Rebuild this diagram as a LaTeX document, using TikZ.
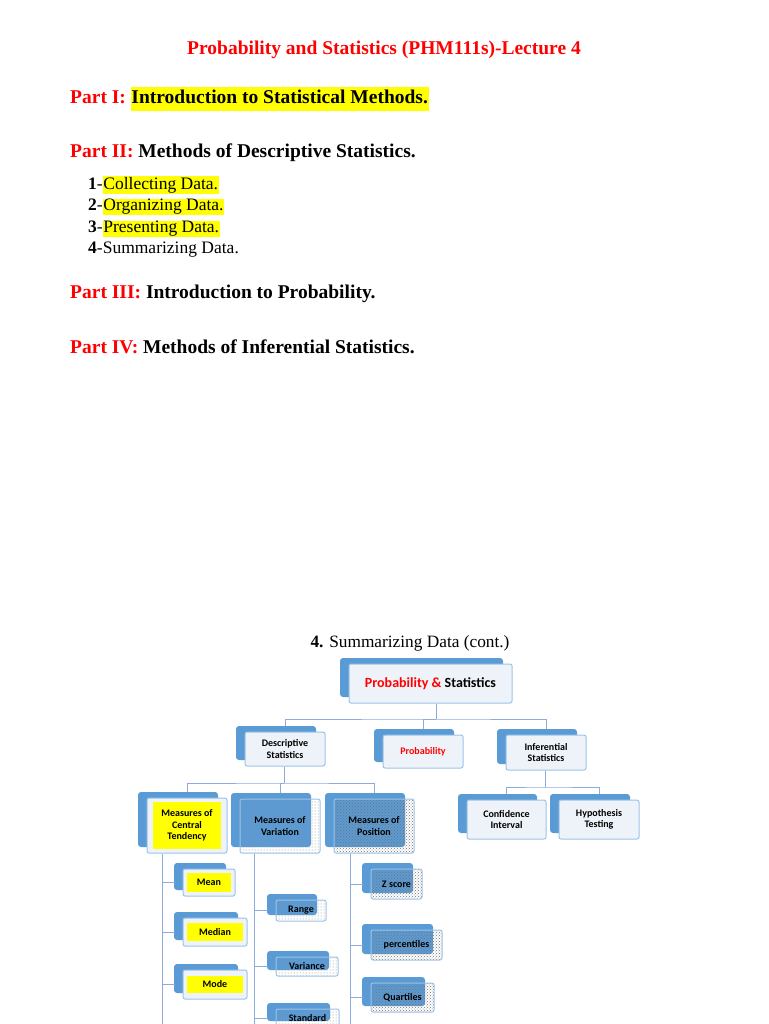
\documentclass[tikz,border=0pt]{standalone}
\usepackage{fontspec}
\setmainfont{Liberation Serif}
\newfontfamily\dsf{Carlito}
\usetikzlibrary{patterns}
\definecolor{hred}{HTML}{FF0000}
\definecolor{hyel}{HTML}{FFFF00}
\definecolor{backb}{HTML}{5B9BD5}
\definecolor{frontf}{HTML}{EEF3FA}
\definecolor{frontd}{HTML}{9DC3E6}
\definecolor{linec}{HTML}{8FAADC}
\setlength{\fboxsep}{0.6pt}
\tikzset{
  front/.style={draw=frontd,line width=1pt,fill=frontf,rounded corners=2pt,align=center,
    font=\dsf\bfseries\fontsize{10}{11.5}\selectfont,inner sep=1pt},
  backbox/.style={fill=backb,rounded corners=3pt},
  conn/.style={draw=linec,line width=0.8pt},
  lighdots/.style={pattern=dots,pattern color=black!45},
  densedots/.style={pattern=crosshatch dots,pattern color=black!55},
}
% \tb{name}{x1}{y1}{x2}{y2}{extra style}{text}
\newcommand{\tb}[7]{%
  \fill[backbox] ({#2-9},{#3-6}) rectangle ({#4-9},{#5-6});
  \node[front,minimum width={#4-#2},minimum height={#5-#3},#6] (#1) at ({(#2+#4)/2},{(#3+#5)/2}) {#7};
}
\begin{document}
\begin{tikzpicture}[x=1pt,y=-1pt]
\useasboundingbox (0,0) rectangle (768,1024);
\fill[white] (0,0) rectangle (768,1024);
% header text
\node[font=\bfseries\fontsize{19.5}{22}\selectfont,text=hred] (title) at (384,50) {Probability and Statistics (PHM111s)-Lecture 4};
\node[anchor=west,font=\bfseries\fontsize{19.5}{22}\selectfont,inner sep=0] (p1) at (70,99) {\textcolor{hred}{Part I:} \colorbox{hyel}{\strut Introduction to Statistical Methods.}};
\node[anchor=west,font=\bfseries\fontsize{19.5}{22}\selectfont,inner sep=0] (p2) at (70,153) {\textcolor{hred}{Part II:} Methods of Descriptive Statistics.};
\node[anchor=west,font=\fontsize{17.5}{20}\selectfont,inner sep=0] (l1) at (88,185) {\textbf{1}-\colorbox{hyel}{Collecting Data.}};
\node[anchor=west,font=\fontsize{17.5}{20}\selectfont,inner sep=0] (l2) at (88,207) {\textbf{2}-\colorbox{hyel}{Organizing Data.}};
\node[anchor=west,font=\fontsize{17.5}{20}\selectfont,inner sep=0] (l3) at (88,229) {\textbf{3}-\colorbox{hyel}{Presenting Data.}};
\node[anchor=west,font=\fontsize{17.5}{20}\selectfont,inner sep=0] (l4) at (88,250) {\textbf{4}-Summarizing Data.};
\node[anchor=west,font=\bfseries\fontsize{19.5}{22}\selectfont,inner sep=0] (p3) at (70,294) {\textcolor{hred}{Part III:} Introduction to Probability.};
\node[anchor=west,font=\bfseries\fontsize{19.5}{22}\selectfont,inner sep=0] (p4) at (70,347) {\textcolor{hred}{Part IV:} Methods of Inferential Statistics.};
\node[font=\fontsize{17.3}{20}\selectfont] (sub) at (410,643) {\textbf{4.} Summarizing Data (cont.)};

\tb{ps}{349}{664}{512}{703}{font=\dsf\bfseries\fontsize{14}{16}\selectfont}{\textcolor{hred}{Probability \&} Statistics}
\tb{ds}{245}{732}{325}{766}{}{Descriptive\\Statistics}
\tb{pr}{383}{735}{463}{768}{text=hred}{Probability}
\tb{is}{506}{735}{586}{770}{}{Inferential\\Statistics}
\tb{ct}{147}{798}{227}{853}{}{\colorbox{hyel}{\parbox[c][46pt]{66pt}{\centering Measures of\\Central\\Tendency}}}
\tb{mv}{240}{799}{320}{853}{lighdots}{Measures of\\Variation}
\tb{mp}{334}{799}{414}{853}{densedots}{Measures of\\Position}
\tb{ci}{467}{800}{546}{839}{}{Confidence\\Interval}
\tb{ht}{559}{800}{639}{839}{}{Hypothesis\\Testing}
\tb{mean}{183}{869}{235}{896}{}{\colorbox{hyel}{\parbox[c][18pt]{42pt}{\centering Mean}}}
\tb{med}{183}{918}{247}{946}{}{\colorbox{hyel}{\parbox[c][16pt]{54pt}{\centering Median}}}
\tb{mode}{183}{970}{247}{999}{}{\colorbox{hyel}{\parbox[c][16pt]{54pt}{\centering Mode}}}
\tb{rng}{276}{900}{326}{921}{lighdots}{Range}
\tb{var}{276}{957}{338}{976}{lighdots}{Variance}
\tb{sd}{276}{1009}{339}{1027}{lighdots}{Standard}
\tb{zs}{371}{869}{422}{899}{densedots}{Z score}
\tb{pc}{371}{930}{442}{960}{densedots}{percentiles}
\tb{qt}{371}{983}{434}{1012}{densedots}{Quartiles}

% connectors
\coordinate (j1) at (436,719);
\draw[conn] (ps.south -| j1) -- (j1);
\draw[conn] ([yshift=6pt]ds.north) |- (j1) -| ([yshift=6pt]is.north);
\draw[conn] (j1) -| ([yshift=6pt]pr.north);
\coordinate (j2) at (284,783);
\draw[conn] (ds.south -| j2) -- (j2);
\draw[conn] ([yshift=6pt]ct.north) |- (j2) -| ([yshift=6pt]mp.north);
\draw[conn] (j2) -| ([yshift=6pt]mv.north);
\coordinate (j3) at (545,787);
\draw[conn] (is.south -| j3) -- (j3);
\draw[conn] ([yshift=6pt]ci.north) |- (j3) -| ([yshift=6pt]ht.north);
\coordinate (t1) at (162,1024);
\coordinate (t2) at (254,1024);
\coordinate (t3) at (350,1024);
\draw[conn] (t1 |- ct.south) -- (t1);
\draw[conn] (t2 |- mv.south) -- (t2);
\draw[conn] (t3 |- mp.south) -- (t3);
\draw[conn] (t1 |- mean.west) -- ([xshift=-8pt]mean.west);
\draw[conn] (t1 |- med) -- ([xshift=-8pt]med.west);
\draw[conn] (t1 |- mode) -- ([xshift=-8pt]mode.west);
\draw[conn] (t2 |- rng) -- ([xshift=-8pt]rng.west);
\draw[conn] (t2 |- var) -- ([xshift=-8pt]var.west);
\draw[conn] (t2 |- sd) -- ([xshift=-8pt]sd.west);
\draw[conn] (t3 |- zs) -- ([xshift=-8pt]zs.west);
\draw[conn] (t3 |- pc) -- ([xshift=-8pt]pc.west);
\draw[conn] (t3 |- qt) -- ([xshift=-8pt]qt.west);
\end{tikzpicture}
\end{document}
